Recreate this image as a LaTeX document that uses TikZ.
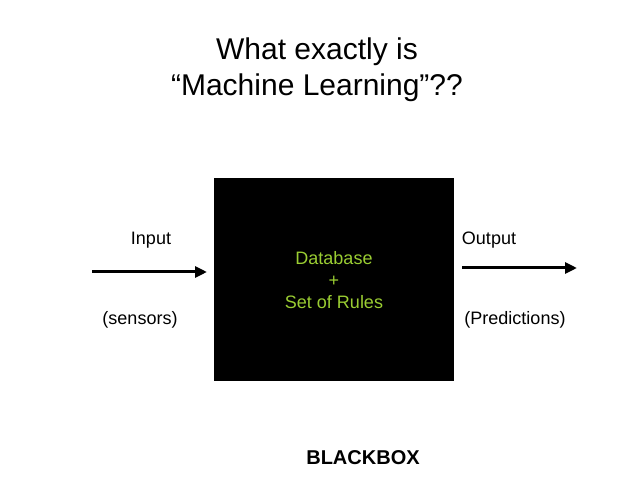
\documentclass[tikz,border=0pt]{standalone}
\usepackage{fontspec}
\setmainfont{Liberation Sans}
\usetikzlibrary{arrows.meta}
\begin{document}
\begin{tikzpicture}[x=1pt,y=-1pt,
  lbl/.style={font=\fontsize{18}{22}\selectfont},
  arr/.style={line width=3pt,-{Triangle[length=12pt,width=11pt]}}]
\useasboundingbox (0,0) rectangle (638,478);
\node[font=\fontsize{30}{36}\selectfont,align=center] (title) at (317,70) {What exactly is\\“Machine Learning”??};
\fill (214,178) rectangle (454,381);
\node[lbl,text={rgb,255:red,154;green,205;blue,50},align=center] (box) at (334,280) {Database\\+\\Set of Rules};
\node[lbl] (in) at (151,240) {Input};
\node[lbl] (sens) at (140,320) {(sensors)};
\node[lbl] (out) at (489,240) {Output};
\node[lbl] (pred) at (515,320) {(Predictions)};
\coordinate (a1) at (92,272); \coordinate (a2) at (207,272);
\coordinate (b1) at (462,268); \coordinate (b2) at (577,268);
\draw[arr] (a1) -- (a2);
\draw[arr] (b1) -- (b2);
\node[font=\bfseries\fontsize{20}{24}\selectfont] (bb) at (363,458) {BLACKBOX};
\end{tikzpicture}
\end{document}
